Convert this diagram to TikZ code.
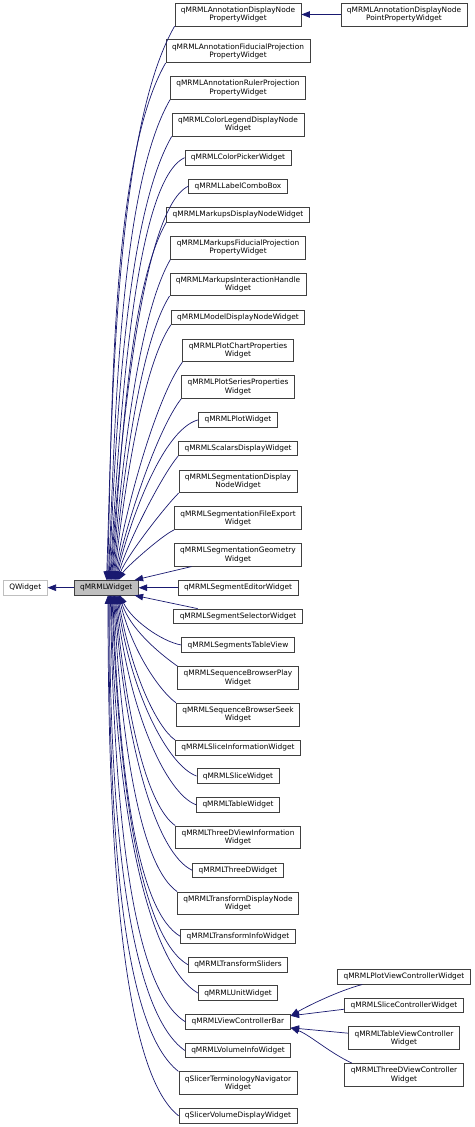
\documentclass[tikz,border=0pt]{standalone}
\usepackage{fontspec}
\setmainfont{DejaVu Sans}
\usepackage{tikz}
\usetikzlibrary{arrows.meta}
\definecolor{edgeblue}{HTML}{191970}
\definecolor{boxgray}{HTML}{404040}
\definecolor{basefill}{HTML}{BFBFBF}

\begin{document}
\begin{tikzpicture}[x=1pt, y=1pt,
  every node/.style={font=\fontsize{7.4}{8.4}\selectfont},
  cls/.style={draw=boxgray, line width=0.75pt, fill=white, align=center,
    inner xsep=6pt, inner ysep=0pt, minimum height=14.6pt},
  cls2/.style={cls, minimum height=22.8pt},
  base/.style={cls, fill=basefill},
  ext/.style={cls, draw=basefill},
  edge/.style={draw=edgeblue, line width=0.7pt,
    -{Triangle[length=8.5pt,width=6.5pt]}}]

  \useasboundingbox (0,0) rectangle (474,-1127);

  % --- Base classes ---------------------------------------------
  \node[ext]  (qw) at (25.2,-587.7)  {QWidget};
  \node[base] (mw) at (106.2,-587.7) {qMRMLWidget};

  % --- Direct subclasses (middle column) ------------------------
  \node[cls2] (annprop)      at (238,-14.5)   {qMRMLAnnotationDisplayNode\\PropertyWidget};
  \node[cls2] (annfid)       at (238,-51.2)   {qMRMLAnnotationFiducialProjection\\PropertyWidget};
  \node[cls2] (annruler)     at (238,-88)     {qMRMLAnnotationRulerProjection\\PropertyWidget};
  \node[cls2] (colorlegend)  at (238,-124.7)  {qMRMLColorLegendDisplayNode\\Widget};
  \node[cls]  (colorpicker)  at (238,-157.7)  {qMRMLColorPickerWidget};
  \node[cls]  (labelcombo)   at (238,-186.2)  {qMRMLLabelComboBox};
  \node[cls]  (mkdisplay)    at (238,-214.7)  {qMRMLMarkupsDisplayNodeWidget};
  \node[cls2] (mkfid)        at (238,-247.7)  {qMRMLMarkupsFiducialProjection\\PropertyWidget};
  \node[cls2] (mkhandle)     at (238,-284.3)  {qMRMLMarkupsInteractionHandle\\Widget};
  \node[cls]  (modeldisplay) at (238,-317.2)  {qMRMLModelDisplayNodeWidget};
  \node[cls2] (plotchart)    at (238,-350.3)  {qMRMLPlotChartProperties\\Widget};
  \node[cls2] (plotseries)   at (238,-387)    {qMRMLPlotSeriesProperties\\Widget};
  \node[cls]  (plotwidget)   at (238,-419.8)  {qMRMLPlotWidget};
  \node[cls]  (scalars)      at (238,-448.3)  {qMRMLScalarsDisplayWidget};
  \node[cls2] (segdisplay)   at (238,-481.3)  {qMRMLSegmentationDisplay\\NodeWidget};
  \node[cls2] (segexport)    at (238,-518.2)  {qMRMLSegmentationFileExport\\Widget};
  \node[cls2] (seggeom)      at (238,-554.8)  {qMRMLSegmentationGeometry\\Widget};
  \node[cls]  (segeditor)    at (238,-587.7)  {qMRMLSegmentEditorWidget};
  \node[cls]  (segselector)  at (238,-616.3)  {qMRMLSegmentSelectorWidget};
  \node[cls]  (segtable)     at (238,-645)    {qMRMLSegmentsTableView};
  \node[cls2] (seqplay)      at (238,-677.8)  {qMRMLSequenceBrowserPlay\\Widget};
  \node[cls2] (seqseek)      at (238,-714.5)  {qMRMLSequenceBrowserSeek\\Widget};
  \node[cls]  (sliceinfo)    at (238,-747.7)  {qMRMLSliceInformationWidget};
  \node[cls]  (slicewidget)  at (238,-776)    {qMRMLSliceWidget};
  \node[cls]  (tablewidget)  at (238,-804.8)  {qMRMLTableWidget};
  \node[cls2] (threedinfo)   at (238,-837.3)  {qMRMLThreeDViewInformation\\Widget};
  \node[cls]  (threedwidget) at (238,-870.3)  {qMRMLThreeDWidget};
  \node[cls2] (xfdisplay)    at (238,-903.3)  {qMRMLTransformDisplayNode\\Widget};
  \node[cls]  (xfinfo)       at (238,-936.3)  {qMRMLTransformInfoWidget};
  \node[cls]  (xfsliders)    at (238,-964.7)  {qMRMLTransformSliders};
  \node[cls]  (unitwidget)   at (238,-993)    {qMRMLUnitWidget};
  \node[cls]  (vcbar)        at (238,-1021.8) {qMRMLViewControllerBar};
  \node[cls]  (volinfo)      at (238,-1050.5) {qMRMLVolumeInfoWidget};
  \node[cls2] (termnav)      at (238,-1083.2) {qSlicerTerminologyNavigator\\Widget};
  \node[cls]  (voldisplay)   at (238,-1115.8) {qSlicerVolumeDisplayWidget};

  % --- Second level (right column) ------------------------------
  \node[cls2] (annpoint) at (404,-14.5)   {qMRMLAnnotationDisplayNode\\PointPropertyWidget};
  \node[cls]  (plotvc)   at (404,-976.8)  {qMRMLPlotViewControllerWidget};
  \node[cls]  (slicevc)  at (404,-1005.2) {qMRMLSliceControllerWidget};
  \node[cls2] (tablevc)  at (404,-1038.2) {qMRMLTableViewController\\Widget};
  \node[cls2] (threedvc) at (404,-1074.8) {qMRMLThreeDViewController\\Widget};

  % --- Edges into qMRMLWidget from above ------------------------
  % name/anchor/out/out dist/x offset/in/in dist
  \foreach \n/\a/\o/\od/\dx/\ia/\id in {
      annprop/south west/240/122/0.3/88/155,
      annfid/south west/240/114/1.1/88/145,
      annruler/south west/240/106/1.9/87/135,
      colorlegend/south west/240/98/2.7/87/124,
      colorpicker/west/205/60/3.5/86/118,
      labelcombo/west/205/55/4.3/86/110,
      mkdisplay/south west/240/79/5.1/85/100,
      mkfid/south west/240/71/5.9/85/90,
      mkhandle/south west/238/62/6.7/84/80,
      modeldisplay/south west/236/56/7.5/83/72,
      plotchart/south west/234/48/8.3/82/61,
      plotseries/south west/232/40/9.1/80/51,
      plotwidget/west/195/40/9.9/78/45,
      scalars/south west/230/27/10.7/75/35,
      segdisplay/south west/225/20/11.5/70/25,
      segexport/south west/205/14/12.3/60/14}
    \draw[edge] (\n.\a) .. controls +(\o:\od) and +(\ia:\id) .. ([xshift=\dx pt]mw.north);

  % --- Edges into qMRMLWidget from below ------------------------
  \foreach \n/\a/\o/\od/\dx/\ia/\id in {
      segtable/west/170/20/13.8/-65/27,
      seqplay/north west/145/15/13/-72/38,
      seqseek/north west/145/18/12.2/-76/60,
      sliceinfo/north west/145/22/11.4/-80/80,
      slicewidget/west/160/30/10.6/-82/100,
      tablewidget/west/160/32/9.8/-84/115,
      threedinfo/north west/145/33/9/-85/127,
      threedwidget/west/155/40/8.2/-86/150,
      xfdisplay/north west/145/42/7.4/-87/163,
      xfinfo/west/150/48/6.6/-88/188,
      xfsliders/west/150/52/5.8/-88/203,
      unitwidget/west/150/56/5/-89/219,
      vcbar/west/148/60/4.2/-89/235,
      volinfo/west/145/64/3.4/-90/250,
      termnav/north west/142/67/2.6/-90/262,
      voldisplay/west/142/70/1.8/-90/265}
    \draw[edge] (\n.\a) .. controls +(\o:\od) and +(\ia:\id) .. ([xshift=\dx pt]mw.south);

  % --- Nearly straight edges ------------------------------------
  \draw[edge] ([xshift=17.7pt]seggeom.south west) -- ([xshift=-4pt]mw.north east);
  \draw[edge] (segeditor) -- (mw);
  \draw[edge] ([xshift=24.3pt]segselector.north west) -- ([xshift=-4pt]mw.south east);
  \draw[edge] (mw) -- (qw);
  \draw[edge] (annpoint) -- (annprop);

  % --- Edges into qMRMLViewControllerBar ------------------------
  \draw[edge] ([xshift=25pt]plotvc.south west) .. controls +(195:25) and +(30:20) .. ([yshift=6pt]vcbar.east);
  \draw[edge] ([yshift=-4pt]slicevc.west) -- ([yshift=6pt]vcbar.east);
  \draw[edge] ([yshift=5pt]tablevc.west) -- ([yshift=-6pt]vcbar.east);
  \draw[edge] ([xshift=7.4pt]threedvc.north west) .. controls +(155:25) and +(-20:20) .. ([yshift=-6pt]vcbar.east);
\end{tikzpicture}
\end{document}
